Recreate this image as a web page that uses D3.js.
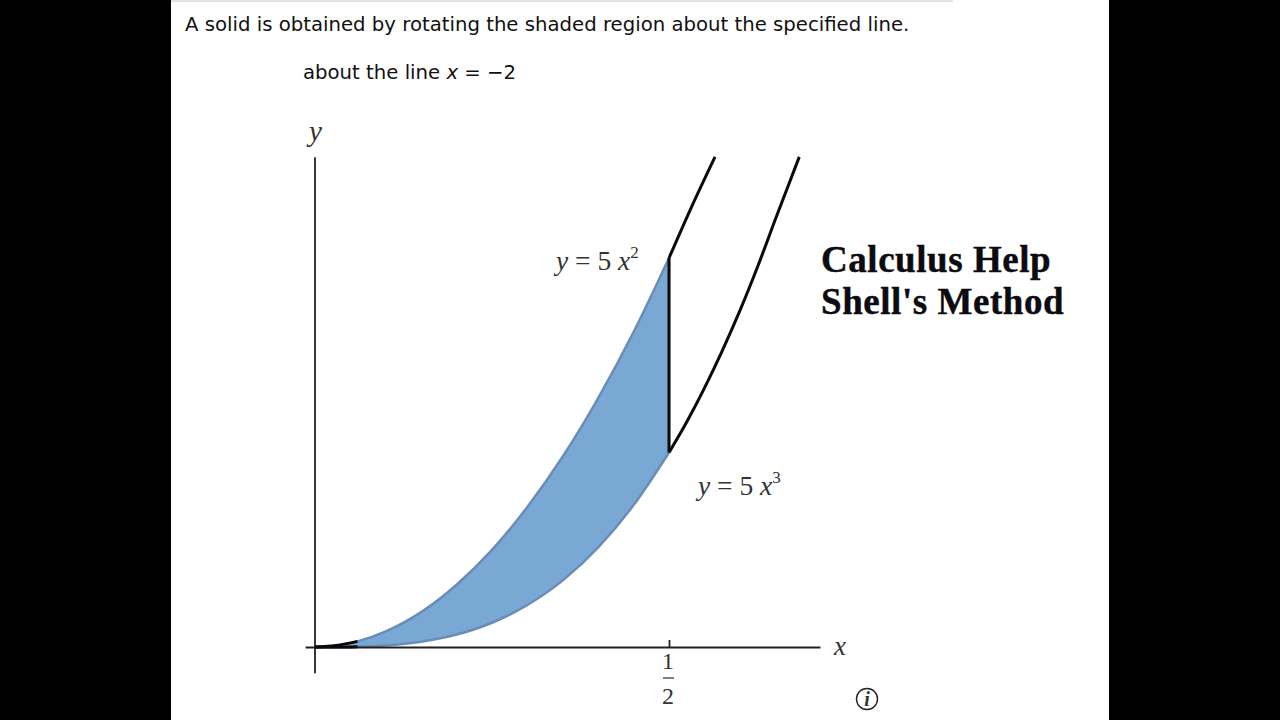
<!DOCTYPE html>
<html>
<head>
<meta charset="utf-8">
<script src="https://cdn.jsdelivr.net/npm/d3@7"></script>
<style>
  html, body { margin: 0; padding: 0; background: #000; overflow: hidden; }
  svg { display: block; }
  .prompt { font-family: "DejaVu Sans", sans-serif; font-size: 19.7px; fill: #111; }
  .math { font-family: "Liberation Serif", serif; fill: #333; }
  .note { font-family: "Liberation Serif", serif; font-weight: bold; font-size: 37px; letter-spacing: 0.55px; fill: #0b0b10; stroke: #0b0b10; stroke-width: 0.4px; }
</style>
</head>
<body>
<svg id="chart" width="1280" height="720"></svg>
<script>
// values
const upperX = [0, 0.03, 0.06, 0.1, 0.15, 0.2, 0.25, 0.3, 0.35, 0.4, 0.45, 0.5, 0.53, 0.565];
const upperY = [0, 0.005, 0.018, 0.05, 0.112, 0.2, 0.312, 0.45, 0.612, 0.8, 1.012, 1.25, 1.405, 1.575];
const lowerX = [0, 0.03, 0.06, 0.1, 0.15, 0.2, 0.25, 0.3, 0.35, 0.4, 0.45, 0.5, 0.525, 0.55, 0.575, 0.6, 0.625, 0.65, 0.684];
const lowerY = [0, 0, 0.001, 0.005, 0.017, 0.04, 0.078, 0.135, 0.214, 0.32, 0.456, 0.625, 0.723, 0.832, 0.951, 1.08, 1.221, 1.373, 1.575];
const xDomain = [0, 0.5];
const yDomain = [0, 1.25];
const xAxisRange = [-0.014, 0.7133];
const yAxisRange = [-0.083, 1.575];
const shadeStart = 0.06;
const shadeEnd = 0.5;
const xTicks = [0.5];

const svg = d3.select("#chart");

const x = d3.scaleLinear().domain(xDomain).range([315, 669]);
const y = d3.scaleLinear().domain(yDomain).range([647, 258]);

// page
svg.append("rect").attr("x", 171).attr("y", 0).attr("width", 938).attr("height", 720).attr("fill", "#fff");
svg.append("rect").attr("x", 171).attr("y", 0).attr("width", 782).attr("height", 2).attr("fill", "#e4e4e4");

const upper = upperX.map((v, i) => [v, upperY[i]]);
const lower = lowerX.map((v, i) => [v, lowerY[i]]);

const line = d3.line().x(d => x(d[0])).y(d => y(d[1])).curve(d3.curveMonotoneX);

// shaded region between the curves, built from the points inside it
const upperIn = upper.filter(d => d[0] <= shadeEnd);
const lowerIn = lower.filter(d => d[0] <= shadeEnd);
const outline = line(upperIn) + "L" + line(lowerIn.slice().reverse()).slice(1) + "Z";
svg.append("path")
  .attr("d", outline)
  .attr("fill", "#7aa8d4")
  .attr("stroke", "#6a8db8")
  .attr("stroke-width", 2.5);

// axes
const xAxisScale = x.copy().domain(xAxisRange).range(xAxisRange.map(x));
const yAxisScale = y.copy().domain(yAxisRange).range(yAxisRange.map(y));

svg.append("g")
  .attr("transform", `translate(0,${y(0)})`)
  .call(d3.axisTop(xAxisScale).tickValues(xTicks).tickSize(7).tickSizeOuter(0).tickFormat(""))
  .call(g => g.selectAll("path, line").attr("stroke", "#222").attr("stroke-width", 1.8));

svg.append("g")
  .attr("transform", `translate(${x(0) - 0.5},0)`)
  .call(d3.axisRight(yAxisScale).tickValues([]).tickSizeOuter(0))
  .call(g => g.selectAll("path").attr("stroke", "#222").attr("stroke-width", 1.8));

// black parts of the curves
const curveStyle = p => p.attr("fill", "none").attr("stroke", "#0a0a0a").attr("stroke-width", 3);
svg.append("path").attr("d", line(upper.filter(d => d[0] >= shadeEnd))).call(curveStyle);
svg.append("path").attr("d", line(lower.filter(d => d[0] >= shadeEnd))).call(curveStyle);
svg.append("path").attr("d", line(upper.filter(d => d[0] <= shadeStart))).call(curveStyle);
svg.append("path").attr("d", line(lower.filter(d => d[0] <= shadeStart))).call(curveStyle);
svg.append("line")
  .attr("x1", x(shadeEnd)).attr("x2", x(shadeEnd))
  .attr("y1", y(upperY[upperX.indexOf(shadeEnd)])).attr("y2", y(lowerY[lowerX.indexOf(shadeEnd)]))
  .call(curveStyle);

// text
svg.append("text").attr("class", "prompt").attr("x", 185).attr("y", 30.5)
  .text("A solid is obtained by rotating the shaded region about the specified line.");
const about = svg.append("text").attr("class", "prompt").attr("x", 303).attr("y", 78.5);
about.append("tspan").text("about the line ");
about.append("tspan").attr("font-style", "italic").text("x");
about.append("tspan").text(" = −2");

function mathText(px, py, size, parts) {
  const t = svg.append("text").attr("class", "math").attr("x", px).attr("y", py).attr("font-size", size);
  parts.forEach(p => {
    const s = t.append("tspan").text(p.text);
    if (p.italic) s.attr("font-style", "italic");
    if (p.sup) s.attr("font-size", size * 0.62).attr("dy", -size * 0.42);
  });
  return t;
}

mathText(309, 141, 29, [{ text: "y", italic: true }]);
mathText(834, 655, 27, [{ text: "x", italic: true }]);
mathText(556, 270, 27.5, [{ text: "y", italic: true }, { text: " = 5 " }, { text: "x", italic: true }, { text: "2", sup: true }]);
mathText(698, 495, 27.5, [{ text: "y", italic: true }, { text: " = 5 " }, { text: "x", italic: true }, { text: "3", sup: true }]);

// tick label as a stacked fraction
svg.append("text").attr("class", "math").attr("x", x(shadeEnd) - 1).attr("y", 669)
  .attr("text-anchor", "middle").attr("font-size", 24).text("1");
svg.append("line").attr("x1", x(shadeEnd) - 6).attr("x2", x(shadeEnd) + 5).attr("y1", 678).attr("y2", 678)
  .attr("stroke", "#555").attr("stroke-width", 1.5);
svg.append("text").attr("class", "math").attr("x", x(shadeEnd) - 1).attr("y", 704)
  .attr("text-anchor", "middle").attr("font-size", 24).text("2");

svg.append("text").attr("class", "note").attr("x", 821).attr("y", 272).text("Calculus Help");
svg.append("text").attr("class", "note").attr("x", 821).attr("y", 314).text("Shell's Method");

// info icon
svg.append("circle").attr("cx", 867).attr("cy", 699).attr("r", 10.5)
  .attr("fill", "none").attr("stroke", "#222").attr("stroke-width", 1.4);
svg.append("text").attr("class", "math").attr("x", 867).attr("y", 706)
  .attr("text-anchor", "middle").attr("font-size", 20).attr("font-style", "italic").attr("font-weight", "bold").text("i");
</script>
</body>
</html>
